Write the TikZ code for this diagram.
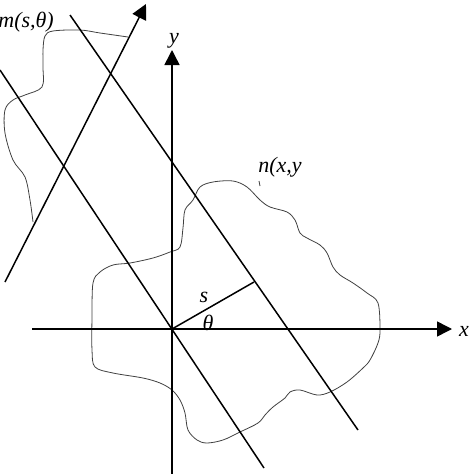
\documentclass[tikz,border=0pt]{standalone}
\usepackage{fontspec}
\setmainfont{Liberation Serif}
\usetikzlibrary{arrows.meta}
\begin{document}
\begin{tikzpicture}[x=1pt,y=-1pt,
  mainline/.style={line width=1.5pt,black},
  arrowed/.style={mainline,-{Triangle[length=15pt,width=15pt]}},
  blob/.style={line width=0.8pt,black!75,smooth,tension=0.55},
  lbl/.style={inner sep=0pt,font=\fontsize{22}{26}\selectfont\itshape}]
\useasboundingbox (0,0) rectangle (474,474);
% coordinates
\coordinate (O) at (172,329);
\coordinate (xs) at (32,329);
\coordinate (xe) at (452,329);
\coordinate (ys) at (172,474);
\coordinate (ye) at (172,50);
\coordinate (S) at (254,282);
\coordinate (l1a) at (0,70);
\coordinate (l1b) at (264,468);
\coordinate (l2a) at (70,15);
\coordinate (l2b) at (358,430);
\coordinate (l3a) at (5,282);
\coordinate (l3b) at (146,4);
\coordinate (ta) at (259,181);
\coordinate (tb) at (260,186);
% blobs
\draw[blob] plot coordinates {(128,37) (100,33) (80,30) (53,31) (45,36) (43,50) (43,67) (42,87) (25,95) (13,100) (5,110) (5,133) (13,160) (25,177) (30,200) (33,222)};
\draw[blob] plot[smooth cycle] coordinates {(193,200) (200,187) (213,182) (233,181) (247,187) (260,200) (270,207) (287,212) (295,220) (300,233) (307,238) (320,245) (327,253) (333,267) (340,275) (353,283) (367,293) (378,303) (380,330) (378,343) (370,360) (363,368) (347,382) (330,392) (317,395) (300,390) (290,392) (285,398) (273,407) (265,415) (258,423) (240,432) (223,440) (207,443) (197,440) (188,430) (185,413) (180,400) (172,390) (160,383) (143,378) (113,373) (95,367) (92,350) (92,317) (93,283) (100,272) (113,265) (130,263) (153,258) (170,252) (180,247) (183,228) (185,210)};
\draw[line width=0.8pt,black!75] (ta) -- (tb);
% axes
\draw[arrowed] (xs) -- (xe);
\draw[arrowed] (ys) -- (ye);
% lines
\draw[mainline] (l1a) -- (l1b);
\draw[mainline] (l2a) -- (l2b);
\draw[arrowed] (l3a) -- (l3b);
\draw[mainline] (O) -- (S);
% labels
\node[lbl] (lx) at (464,331) {x};
\node[lbl] (ly) at (174,41) {y};
\node[lbl] (ls) at (204,297) {s};
\node[lbl] (lt) at (208,323) {θ};
\node[lbl,anchor=east] (lm) at (54,22) {m(s,θ)};
\node[lbl] (ln) at (280,167) {n(x,y};
\end{tikzpicture}
\end{document}
